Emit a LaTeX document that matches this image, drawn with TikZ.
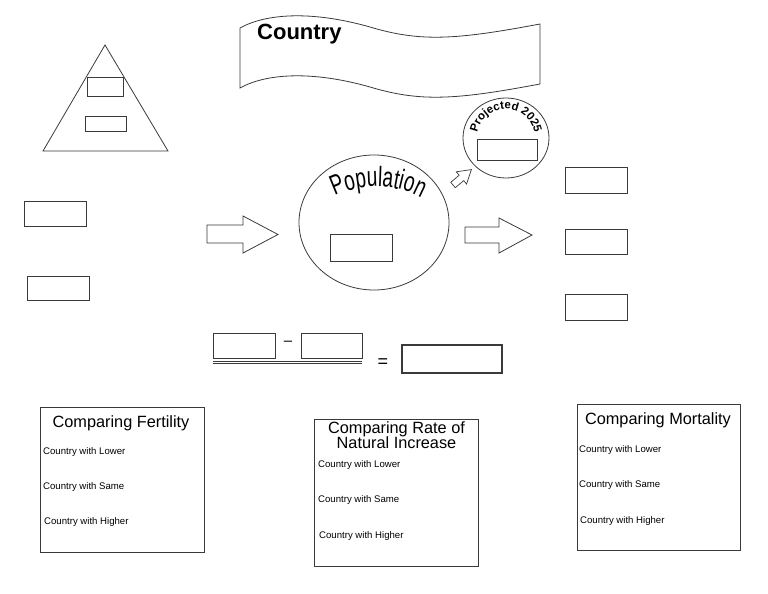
\documentclass[tikz,border=0pt]{standalone}
\usepackage{fontspec}
\setmainfont{Liberation Sans}
\newfontfamily\popfont[FakeStretch=0.68]{Liberation Sans}
\usetikzlibrary{shapes.geometric,decorations.text}
\definecolor{wsLine}{HTML}{3A3A3A}

\begin{document}
\begin{tikzpicture}[x=1pt,y=-1pt,
    blank/.style={draw=wsLine,line width=0.9pt,inner sep=0pt},
    cmpbox/.style={draw=wsLine,line width=0.9pt,inner sep=0pt},
    cmptitle/.style={font=\fontsize{16.3}{15}\selectfont,align=center,anchor=base,inner sep=0pt},
    cmpitem/.style={font=\fontsize{9.6}{10}\selectfont,anchor=base west,inner sep=0pt},
    fatarrow/.style={draw=wsLine,line width=0.8pt,line join=miter}]
  \useasboundingbox (0,0) rectangle (768,594);

  % country banner
  \draw[wsLine,line width=0.8pt] (240,28) .. controls (265,14) and (310,10) .. (370,27)
    .. controls (420,42) and (455,40) .. (540,24) -- (540,84)
    .. controls (455,100) and (420,102) .. (370,87)
    .. controls (310,70) and (265,74) .. (240,88) -- cycle;
  \node[font=\fontsize{22}{22}\selectfont\bfseries,anchor=base west,inner sep=0pt] (country) at (257,40) {Country};

  % pyramid with its boxes
  \draw[wsLine,line width=0.8pt] (105,45) -- (168,151) -- (43,151) -- cycle;
  \node[blank,minimum width=36pt,minimum height=19pt] (pyrTop) at (105,86.5) {};
  \node[blank,minimum width=41pt,minimum height=15pt] (pyrMid) at (105.5,123.5) {};

  % inputs on the left
  \node[blank,minimum width=62pt,minimum height=25pt] (inA) at (55,213.5) {};
  \node[blank,minimum width=62pt,minimum height=24pt] (inB) at (58,288) {};
  \draw[fatarrow] (207,225) -- (243,225) -- (243,216) -- (278,234.5) -- (243,253)
    -- (243,243) -- (207,243) -- cycle;

  % population
  \node[draw=wsLine,line width=0.8pt,ellipse,minimum width=150pt,minimum height=135pt,inner sep=0pt] (pop) at (374,222.5) {};
  \path[decorate,decoration={text along path,text align=center,
      text={|\popfont\fontsize{28}{28}\selectfont|Population}}]
    (328,200) .. controls (355,182) and (400,182) .. (428,202);
  \node[blank,minimum width=62pt,minimum height=27pt] (popVal) at (361,247.5) {};

  % projection
  \begin{scope}[shift={(453,185)},rotate=40]
    \draw[fatarrow,line width=0.7pt] (0,3.5) -- (11,3.5) -- (11,8) -- (24,0) -- (11,-8)
      -- (11,-3.5) -- (0,-3.5) -- cycle;
  \end{scope}
  \node[draw=wsLine,line width=0.8pt,ellipse,minimum width=86pt,minimum height=80pt,inner sep=0pt] (proj) at (506,138) {};
  \path[decorate,decoration={text along path,text align=center,
      text={|\fontsize{11.5}{12}\selectfont\bfseries|Projected 2025}}]
    (477.4,143) arc[start angle=-190,end angle=10,radius=29];
  \node[blank,minimum width=60pt,minimum height=21pt] (projVal) at (507,149.5) {};

  % outputs on the right
  \draw[fatarrow] (465,227) -- (499,227) -- (499,218) -- (532,235) -- (499,253)
    -- (499,243) -- (465,243) -- cycle;
  \node[blank,minimum width=62pt,minimum height=26pt] (outA) at (596,180) {};
  \node[blank,minimum width=62pt,minimum height=25pt] (outB) at (596,241.5) {};
  \node[blank,minimum width=62pt,minimum height=26pt] (outC) at (596,307) {};

  % rate equation
  \node[blank,minimum width=62pt,minimum height=25pt] (eqA) at (244,345.5) {};
  \node[font=\fontsize{15}{15}\selectfont,inner sep=0pt] (eqMinus) at (288,343) {–};
  \node[blank,minimum width=61pt,minimum height=25pt] (eqB) at (331.5,345.5) {};
  \draw[wsLine,line width=0.6pt] (eqA.south west |- 0,361) -- (eqB.south east |- 0,361);
  \draw[wsLine,line width=0.6pt] (eqA.south west |- 0,363.5) -- (eqB.south east |- 0,363.5);
  \node[font=\fontsize{18}{18}\selectfont,inner sep=0pt] (eqSign) at (383,363) {=};
  \node[blank,line width=1.8pt,minimum width=100pt,minimum height=28pt] (eqRes) at (452,359) {};

  % comparison boxes
  \node[cmpbox,minimum width=164pt,minimum height=145pt] (fert) at (122,479.5) {};
  \node[cmptitle] (fertTitle) at (121,427) {Comparing Fertility};
  \foreach \lvl/\yy/\xx in {Lower/454/43,Same/489/43,Higher/524/44}
    \node[cmpitem] (fert\lvl) at (\xx,\yy) {Country with \lvl};

  \node[cmpbox,minimum width=164pt,minimum height=147pt] (rate) at (396,492.5) {};
  \node[cmptitle] (rateTitle) at (396.5,448) {Comparing Rate of\\[-1.5pt]Natural Increase};
  \foreach \lvl/\yy/\xx in {Lower/467/318,Same/502/318,Higher/538/319}
    \node[cmpitem] (rate\lvl) at (\xx,\yy) {Country with \lvl};

  \node[cmpbox,minimum width=163pt,minimum height=146pt] (mort) at (658.5,477) {};
  \node[cmptitle] (mortTitle) at (658,424) {Comparing Mortality};
  \foreach \lvl/\yy/\xx in {Lower/452/579,Same/487/579,Higher/523/580}
    \node[cmpitem] (mort\lvl) at (\xx,\yy) {Country with \lvl};
\end{tikzpicture}
\end{document}
